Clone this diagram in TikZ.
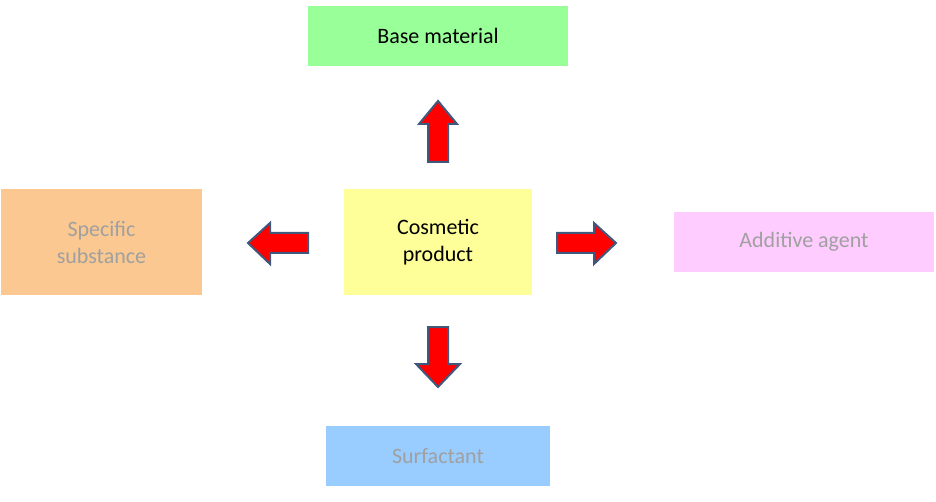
\documentclass[tikz,border=0pt]{standalone}
\usepackage{fontspec}
\setmainfont{Carlito}
\definecolor{cgreen}{HTML}{99FF99}
\definecolor{cyellow}{HTML}{FFFF99}
\definecolor{corange}{HTML}{FAC890}
\definecolor{cpink}{HTML}{FFCCFF}
\definecolor{cblue}{HTML}{99CCFF}
\definecolor{cgrayt}{HTML}{A0A0A0}
\definecolor{cedge}{HTML}{40587C}
\begin{document}
\begin{tikzpicture}[x=1pt,y=-1pt,
  box/.style={draw=none,inner sep=0pt,align=center,font=\fontsize{22}{27}\selectfont},
  blk/.style={fill=red,draw=cedge,line width=2pt,line join=miter}]
\useasboundingbox (0,0) rectangle (936,502);
\node[box,fill=cgreen,minimum width=260pt,minimum height=60pt] (base) at (438,36) {Base material};
\node[box,fill=cyellow,minimum width=188pt,minimum height=106pt] (cos) at (438,242) {Cosmetic\\product};
\node[box,fill=corange,text=cgrayt,minimum width=201pt,minimum height=106pt] (spec) at (101.5,242) {Specific\\substance};
\node[box,fill=cpink,text=cgrayt,minimum width=260pt,minimum height=60pt] (add) at (804,242) {Additive agent};
\node[box,fill=cblue,text=cgrayt,minimum width=224pt,minimum height=60pt] (surf) at (438,456) {Surfactant};
% up
\draw[blk] (438,101) -- (457,124) -- (448,124) -- (448,162) -- (428,162) -- (428,124) -- (419,124) -- cycle;
% down
\draw[blk] (438,387) -- (460,364) -- (448,364) -- (448,327) -- (428,327) -- (428,364) -- (416,364) -- cycle;
% left
\draw[blk] (248,243) -- (270,223) -- (270,233) -- (308,233) -- (308,253) -- (270,253) -- (270,264) -- cycle;
% right
\draw[blk] (616,243) -- (594,223) -- (594,233) -- (557,233) -- (557,253) -- (594,253) -- (594,264) -- cycle;
\end{tikzpicture}
\end{document}
